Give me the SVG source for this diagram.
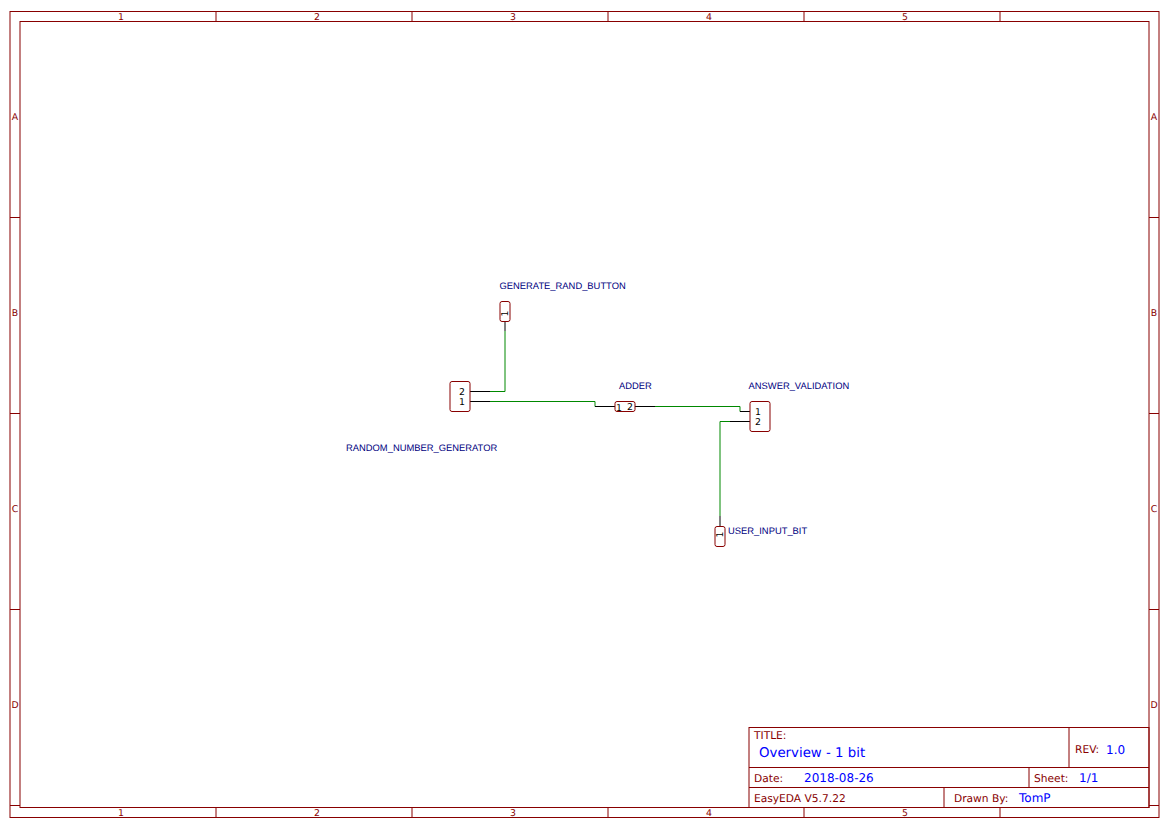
<svg xmlns="http://www.w3.org/2000/svg" width="1169" height="828" viewBox="0 0 1169 828">
<style>
text{text-rendering:geometricPrecision}
.f{fill:none;stroke:#880000;stroke-width:1}
.fr{font-family:"DejaVu Sans",sans-serif;font-size:9.33px;fill:#880000;text-anchor:middle}
.tb{font-family:"DejaVu Sans",sans-serif;font-size:10.67px;fill:#880000}
.v{font-family:"DejaVu Sans",sans-serif;font-size:12px;fill:#0000ff}
.t{font-family:"DejaVu Sans",sans-serif;font-size:13.33px;fill:#0000ff}
.n{font-family:"Liberation Sans",Arial,sans-serif;font-size:9.4px;fill:#000080}
.p{font-family:"DejaVu Sans",sans-serif;font-size:9.33px;fill:#000000}
.b{fill:#ffffff;stroke:#880000;stroke-width:1}
.pin{fill:none;stroke:#000000;stroke-width:1}
.w{fill:none;stroke:#008800;stroke-width:1}
</style>
<rect width="1169" height="828" fill="#ffffff"/>
<g id="frame">
<rect class="f" x="10" y="11.5" width="1149" height="806"/>
<rect class="f" x="20" y="21.5" width="1129" height="786"/>
<path class="f" d="M216 11.5V21.5M412 11.5V21.5M608 11.5V21.5M804 11.5V21.5M1000 11.5V21.5M216 807.5V817.5M412 807.5V817.5M608 807.5V817.5M804 807.5V817.5M1000 807.5V817.5M10 217.5H20M10 413.5H20M10 609.5H20M10 805.5H20M1149 217.5H1159M1149 413.5H1159M1149 609.5H1159M1149 805.5H1159"/>
<text class="fr" x="121" y="20">1</text><text class="fr" x="317" y="20">2</text><text class="fr" x="513" y="20">3</text><text class="fr" x="709" y="20">4</text><text class="fr" x="905" y="20">5</text>
<text class="fr" x="121" y="816">1</text><text class="fr" x="317" y="816">2</text><text class="fr" x="513" y="816">3</text><text class="fr" x="709" y="816">4</text><text class="fr" x="905" y="816">5</text>
<text class="fr" x="15" y="120">A</text><text class="fr" x="15" y="316">B</text><text class="fr" x="15" y="512">C</text><text class="fr" x="15" y="708">D</text>
<text class="fr" x="1154" y="120">A</text><text class="fr" x="1154" y="316">B</text><text class="fr" x="1154" y="512">C</text><text class="fr" x="1154" y="708">D</text>
</g>
<g id="title-block">
<rect class="f" x="749" y="727.5" width="400" height="80"/>
<path class="f" d="M749 767.5H1149M749 787.5H1149M1069 727.5V767.5M1029 767.5V787.5M944 787.5V807.5"/>
<text class="tb" x="754" y="739">TITLE:</text>
<text class="t" x="759" y="757">Overview - 1 bit</text>
<text class="tb" x="1075" y="753">REV:</text><text class="v" x="1106" y="754">1.0</text>
<text class="tb" x="754" y="782">Date:</text><text class="v" x="804" y="782">2018-08-26</text>
<text class="tb" x="1034" y="782">Sheet:</text><text class="v" x="1079" y="782">1/1</text>
<text class="tb" x="754" y="802">EasyEDA V5.7.22</text>
<text class="tb" x="954" y="802">Drawn By:</text><text class="v" x="1019" y="802">TomP</text>
</g>
<g id="connectors">
<path class="w" d="M490 391.5H505V331"/>
<path class="w" d="M490 401.5H595V406.5"/>
<path class="w" d="M655 406.5H740V411.5"/>
<path class="w" d="M730 421.5H720V516"/>
</g>
<g id="GENERATE_RAND_BUTTON">
<path class="pin" d="M505 321V331"/>
<rect class="b" x="500" y="301.5" width="10" height="20" rx="2"/>
<text class="n" x="499.5" y="289">GENERATE_RAND_BUTTON</text>
<text class="p" transform="translate(508 313.500) rotate(-90)" text-anchor="middle">1</text>
</g>
<g id="RANDOM_NUMBER_GENERATOR">
<path class="pin" d="M470 391.500H490M470 401.500H490"/>
<rect class="b" x="450" y="381.5" width="20" height="30" rx="2"/>
<text class="p" x="459" y="395">2</text><text class="p" x="459" y="405">1</text>
<text class="n" x="346" y="451">RANDOM_NUMBER_GENERATOR</text>
</g>
<g id="ADDER">
<path class="pin" d="M595 406.500H615M635 406.500H655"/>
<rect class="b" x="615" y="401.5" width="20" height="10" rx="2"/>
<text class="p" x="616" y="410.500">1</text><text class="p" x="627" y="409.500">2</text>
<text class="n" x="619" y="389">ADDER</text>
</g>
<g id="ANSWER_VALIDATION">
<path class="pin" d="M740 411.500H750M730 421.500H750"/>
<rect class="b" x="750" y="401.5" width="20" height="30" rx="2"/>
<text class="p" x="755" y="414.500">1</text><text class="p" x="755" y="424.500">2</text>
<text class="n" x="748.500" y="389">ANSWER_VALIDATION</text>
</g>
<g id="USER_INPUT_BIT">
<path class="pin" d="M720 516V526"/>
<rect class="b" x="715" y="526.5" width="10" height="20" rx="2"/>
<text class="p" transform="translate(723 534.500) rotate(-90)" text-anchor="middle">1</text>
<text class="n" x="728" y="533.500">USER_INPUT_BIT</text>
</g>
</svg>
